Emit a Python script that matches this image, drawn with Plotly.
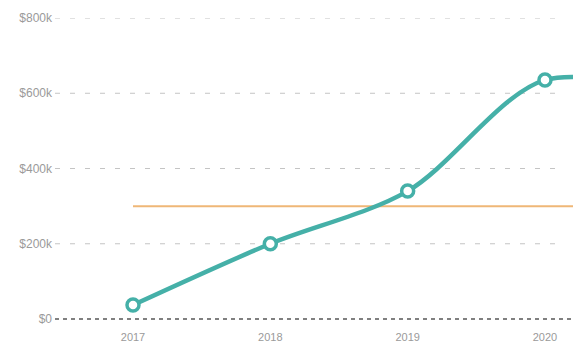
import plotly.graph_objects as go

years = [2017, 2018, 2019, 2020, 2021]
revenue = [37000, 200000, 340000, 635000, 590000]
target_years = [2017, 2021]
target = [300000, 300000]
y_ticks = [0, 200000, 400000, 600000, 800000]
y_labels = ["$0", "$200k", "$400k", "$600k", "$800k"]
x_ticks = [2017, 2018, 2019, 2020]
x_labels = ["2017", "2018", "2019", "2020"]

TEAL = "#45b0a8"
ORANGE = "#efb777"
GRID = "#c4c4c4"
TEXT = "#9a9a9a"

fig = go.Figure()

fig.add_trace(go.Scatter(
    x=target_years, y=target, mode="lines",
    line=dict(color=ORANGE, width=2), hoverinfo="skip", showlegend=False,
))
fig.add_trace(go.Scatter(
    x=years, y=revenue, mode="lines",
    line=dict(color=TEAL, width=4.5, shape="spline", smoothing=0.9),
    showlegend=False,
))
fig.add_trace(go.Scatter(
    x=years[:4], y=revenue[:4], mode="markers",
    marker=dict(size=12, color="white", line=dict(color=TEAL, width=3.5)),
    showlegend=False,
))

shapes = []
for v in y_ticks[1:]:
    shapes.append(dict(type="line", xref="paper", yref="y", x0=0, x1=0.9807, y0=v, y1=v,
                       line=dict(color=GRID, width=1, dash="5px,10px"), layer="below"))
shapes.append(dict(type="line", xref="paper", yref="paper", x0=0, x1=1, y0=0, y1=0,
                   line=dict(color="#808080", width=2, dash="4px,4px"), layer="below"))

fig.update_layout(
    width=573, height=353,
    margin=dict(l=55, r=0, t=18, b=34),
    paper_bgcolor="white", plot_bgcolor="white",
    font=dict(family="Liberation Sans, Arial, sans-serif", size=12, color=TEXT),
    shapes=shapes,
    xaxis=dict(range=[2016.432, 2020.204], tickvals=x_ticks, ticktext=x_labels,
               showgrid=False, zeroline=False, showline=False, ticks="",
               tickfont=dict(size=11, color=TEXT), ticklabelstandoff=10),
    yaxis=dict(range=[0, 800000], tickvals=y_ticks, ticktext=y_labels,
               showgrid=False, zeroline=False, showline=False, ticks="",
               tickfont=dict(size=12, color=TEXT), ticklabelstandoff=2),
)

fig.write_html("out.html")
